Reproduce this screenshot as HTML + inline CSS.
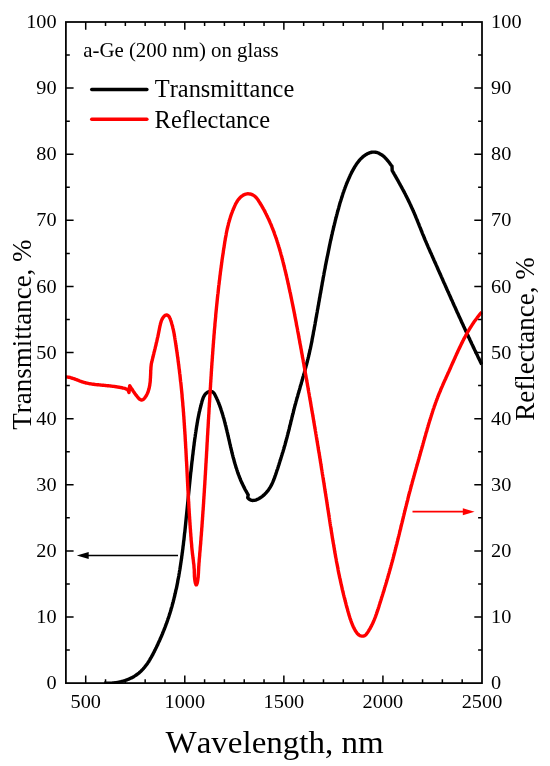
<!DOCTYPE html>
<html><head><meta charset="utf-8"><title>Chart</title><style>html,body{margin:0;padding:0;background:#fff}svg{display:block}text{font-kerning:none;font-feature-settings:"kern" 0,"liga" 0}</style></head><body>
<svg width="550" height="766" viewBox="0 0 550 766">
<rect width="550" height="766" fill="#fff"/>
<clipPath id="c"><rect x="64.9" y="21.0" width="418.1" height="663.1"/></clipPath>
<path d="M85.71 683.1 v-7.7 M85.71 22.0 v7.7 M105.53 683.1 v-3.9 M105.53 22.0 v3.9 M125.34 683.1 v-3.9 M125.34 22.0 v3.9 M145.16 683.1 v-3.9 M145.16 22.0 v3.9 M164.97 683.1 v-3.9 M164.97 22.0 v3.9 M184.79 683.1 v-7.7 M184.79 22.0 v7.7 M204.60 683.1 v-3.9 M204.60 22.0 v3.9 M224.41 683.1 v-3.9 M224.41 22.0 v3.9 M244.23 683.1 v-3.9 M244.23 22.0 v3.9 M264.04 683.1 v-3.9 M264.04 22.0 v3.9 M283.86 683.1 v-7.7 M283.86 22.0 v7.7 M303.67 683.1 v-3.9 M303.67 22.0 v3.9 M323.49 683.1 v-3.9 M323.49 22.0 v3.9 M343.30 683.1 v-3.9 M343.30 22.0 v3.9 M363.11 683.1 v-3.9 M363.11 22.0 v3.9 M382.93 683.1 v-7.7 M382.93 22.0 v7.7 M402.74 683.1 v-3.9 M402.74 22.0 v3.9 M422.56 683.1 v-3.9 M422.56 22.0 v3.9 M442.37 683.1 v-3.9 M442.37 22.0 v3.9 M462.19 683.1 v-3.9 M462.19 22.0 v3.9 M65.9 650.05 h3.9 M482.0 650.05 h-3.9 M65.9 616.99 h7.7 M482.0 616.99 h-7.7 M65.9 583.94 h3.9 M482.0 583.94 h-3.9 M65.9 550.88 h7.7 M482.0 550.88 h-7.7 M65.9 517.83 h3.9 M482.0 517.83 h-3.9 M65.9 484.77 h7.7 M482.0 484.77 h-7.7 M65.9 451.72 h3.9 M482.0 451.72 h-3.9 M65.9 418.66 h7.7 M482.0 418.66 h-7.7 M65.9 385.61 h3.9 M482.0 385.61 h-3.9 M65.9 352.55 h7.7 M482.0 352.55 h-7.7 M65.9 319.50 h3.9 M482.0 319.50 h-3.9 M65.9 286.44 h7.7 M482.0 286.44 h-7.7 M65.9 253.39 h3.9 M482.0 253.39 h-3.9 M65.9 220.33 h7.7 M482.0 220.33 h-7.7 M65.9 187.28 h3.9 M482.0 187.28 h-3.9 M65.9 154.22 h7.7 M482.0 154.22 h-7.7 M65.9 121.17 h3.9 M482.0 121.17 h-3.9 M65.9 88.11 h7.7 M482.0 88.11 h-7.7 M65.9 55.06 h3.9 M482.0 55.06 h-3.9" stroke="#000" stroke-width="1.5" fill="none"/>
<g clip-path="url(#c)">
<path d="M104.1 683.0 L105.0 683.1 L106.0 683.1 L107.0 683.2 L107.9 683.2 L108.9 683.2 L109.9 683.2 L110.9 683.1 L111.9 683.1 L112.9 683.0 L113.9 682.9 L114.9 682.8 L115.9 682.6 L116.9 682.5 L117.9 682.3 L118.9 682.1 L119.9 681.9 L120.9 681.7 L121.9 681.4 L122.9 681.2 L123.9 680.9 L124.9 680.6 L125.8 680.2 L126.8 679.9 L127.7 679.5 L128.7 679.1 L129.6 678.7 L130.5 678.3 L131.4 677.9 L132.3 677.4 L133.2 676.9 L134.1 676.4 L134.9 675.9 L135.8 675.3 L136.6 674.8 L137.4 674.2 L138.2 673.6 L139.0 673.0 L139.7 672.3 L140.4 671.7 L141.2 671.0 L141.8 670.3 L142.5 669.6 L143.2 668.9 L143.8 668.1 L144.5 667.4 L145.1 666.6 L145.7 665.8 L146.3 665.0 L146.9 664.2 L147.5 663.4 L148.0 662.6 L148.6 661.8 L149.1 660.9 L149.6 660.1 L150.1 659.2 L150.6 658.3 L151.2 657.4 L151.6 656.6 L152.1 655.7 L152.6 654.8 L153.1 653.9 L153.5 653.0 L154.0 652.1 L154.5 651.2 L154.9 650.2 L155.4 649.3 L155.8 648.4 L156.3 647.5 L156.7 646.6 L157.1 645.7 L157.6 644.8 L158.0 643.8 L158.4 642.9 L158.8 642.0 L159.3 641.1 L159.7 640.2 L160.1 639.2 L160.5 638.3 L160.9 637.4 L161.3 636.5 L161.7 635.5 L162.1 634.6 L162.5 633.7 L162.9 632.7 L163.2 631.8 L163.6 630.9 L164.0 629.9 L164.4 629.0 L164.7 628.1 L165.1 627.1 L165.4 626.2 L165.8 625.3 L166.1 624.3 L166.5 623.4 L166.8 622.4 L167.2 621.5 L167.5 620.5 L167.8 619.6 L168.1 618.6 L168.5 617.7 L168.8 616.7 L169.1 615.8 L169.4 614.8 L169.7 613.9 L170.0 612.9 L170.3 612.0 L170.6 611.0 L170.9 610.1 L171.1 609.1 L171.4 608.1 L171.7 607.2 L172.0 606.2 L172.2 605.3 L172.5 604.3 L172.8 603.3 L173.0 602.4 L173.3 601.4 L173.5 600.4 L173.8 599.5 L174.0 598.5 L174.2 597.5 L174.5 596.6 L174.7 595.6 L174.9 594.6 L175.2 593.6 L175.4 592.7 L175.6 591.7 L175.8 590.7 L176.0 589.7 L176.3 588.8 L176.5 587.8 L176.7 586.8 L176.9 585.8 L177.1 584.8 L177.3 583.9 L177.5 582.9 L177.7 581.9 L177.8 580.9 L178.0 579.9 L178.2 578.9 L178.4 578.0 L178.6 577.0 L178.8 576.0 L178.9 575.0 L179.1 574.0 L179.3 573.0 L179.4 572.0 L179.6 571.0 L179.8 570.0 L179.9 569.1 L180.1 568.1 L180.2 567.1 L180.4 566.1 L180.5 565.1 L180.7 564.1 L180.8 563.1 L181.0 562.1 L181.1 561.1 L181.3 560.1 L181.4 559.1 L181.6 558.1 L181.7 557.1 L181.8 556.1 L182.0 555.2 L182.1 554.2 L182.2 553.2 L182.4 552.2 L182.5 551.2 L182.6 550.2 L182.8 549.2 L182.9 548.2 L183.0 547.2 L183.1 546.2 L183.3 545.2 L183.4 544.2 L183.5 543.2 L183.6 542.2 L183.7 541.2 L183.9 540.2 L184.0 539.2 L184.1 538.2 L184.2 537.2 L184.3 536.2 L184.4 535.2 L184.5 534.2 L184.6 533.2 L184.8 532.2 L184.9 531.2 L185.0 530.2 L185.1 529.2 L185.2 528.2 L185.3 527.2 L185.4 526.2 L185.5 525.2 L185.6 524.2 L185.7 523.2 L185.8 522.2 L185.9 521.2 L186.0 520.2 L186.1 519.2 L186.2 518.2 L186.3 517.2 L186.4 516.2 L186.5 515.2 L186.6 514.2 L186.7 513.2 L186.8 512.2 L186.9 511.2 L187.0 510.2 L187.1 509.2 L187.2 508.2 L187.3 507.2 L187.4 506.2 L187.5 505.2 L187.6 504.2 L187.7 503.2 L187.8 502.2 L187.9 501.2 L188.0 500.2 L188.1 499.2 L188.2 498.2 L188.3 497.2 L188.4 496.2 L188.5 495.2 L188.6 494.2 L188.7 493.2 L188.8 492.2 L188.9 491.2 L189.0 490.2 L189.1 489.2 L189.2 488.2 L189.3 487.2 L189.4 486.2 L189.5 485.2 L189.6 484.2 L189.7 483.2 L189.8 482.2 L189.9 481.2 L190.0 480.2 L190.1 479.2 L190.2 478.2 L190.3 477.2 L190.4 476.2 L190.5 475.2 L190.6 474.2 L190.7 473.2 L190.8 472.2 L191.0 471.2 L191.1 470.2 L191.2 469.2 L191.3 468.2 L191.4 467.2 L191.5 466.2 L191.6 465.2 L191.7 464.2 L191.8 463.3 L191.9 462.3 L192.0 461.3 L192.2 460.3 L192.3 459.3 L192.4 458.3 L192.5 457.3 L192.6 456.3 L192.7 455.3 L192.9 454.3 L193.0 453.3 L193.1 452.3 L193.2 451.3 L193.3 450.3 L193.5 449.3 L193.6 448.3 L193.7 447.4 L193.8 446.4 L194.0 445.4 L194.1 444.4 L194.2 443.4 L194.3 442.4 L194.5 441.4 L194.6 440.4 L194.7 439.4 L194.9 438.4 L195.0 437.5 L195.2 436.5 L195.3 435.5 L195.4 434.5 L195.6 433.5 L195.7 432.5 L195.9 431.5 L196.0 430.5 L196.2 429.6 L196.3 428.6 L196.5 427.6 L196.6 426.6 L196.8 425.6 L197.0 424.6 L197.1 423.6 L197.3 422.6 L197.5 421.7 L197.6 420.7 L197.8 419.7 L198.0 418.7 L198.2 417.7 L198.4 416.7 L198.6 415.7 L198.8 414.7 L199.0 413.7 L199.2 412.7 L199.4 411.7 L199.7 410.7 L199.9 409.7 L200.1 408.8 L200.4 407.8 L200.6 406.8 L200.9 405.8 L201.1 404.8 L201.4 403.7 L201.7 402.7 L201.9 401.7 L202.2 400.7 L202.5 399.7 L202.9 398.8 L203.2 397.8 L203.6 396.9 L204.1 396.0 L204.6 395.2 L205.1 394.4 L205.7 393.7 L206.4 393.1 L207.2 392.5 L208.0 392.0 L208.9 391.7 L209.9 391.4 L210.8 391.3 L211.6 391.5 L212.5 391.8 L213.2 392.3 L213.8 393.0 L214.4 393.8 L214.9 394.8 L215.4 395.8 L215.9 396.8 L216.4 397.7 L216.8 398.7 L217.3 399.7 L217.7 400.6 L218.1 401.6 L218.5 402.5 L218.8 403.5 L219.2 404.4 L219.6 405.4 L219.9 406.3 L220.2 407.2 L220.6 408.2 L220.9 409.1 L221.2 410.1 L221.5 411.0 L221.8 411.9 L222.1 412.9 L222.4 413.8 L222.7 414.8 L223.0 415.7 L223.2 416.7 L223.5 417.6 L223.8 418.6 L224.1 419.6 L224.3 420.5 L224.6 421.5 L224.8 422.5 L225.1 423.4 L225.3 424.4 L225.6 425.4 L225.8 426.3 L226.1 427.3 L226.3 428.3 L226.5 429.3 L226.8 430.2 L227.0 431.2 L227.2 432.2 L227.5 433.2 L227.7 434.1 L227.9 435.1 L228.1 436.1 L228.4 437.1 L228.6 438.1 L228.8 439.0 L229.0 440.0 L229.3 441.0 L229.5 442.0 L229.7 443.0 L229.9 444.0 L230.2 444.9 L230.4 445.9 L230.6 446.9 L230.9 447.9 L231.1 448.9 L231.3 449.9 L231.6 450.8 L231.8 451.8 L232.0 452.8 L232.3 453.8 L232.5 454.7 L232.8 455.7 L233.0 456.7 L233.3 457.7 L233.5 458.6 L233.8 459.6 L234.1 460.6 L234.3 461.5 L234.6 462.5 L234.9 463.5 L235.2 464.4 L235.5 465.4 L235.8 466.4 L236.0 467.3 L236.4 468.3 L236.7 469.2 L237.0 470.2 L237.3 471.1 L237.6 472.1 L237.9 473.0 L238.3 474.0 L238.6 474.9 L239.0 475.8 L239.3 476.8 L239.7 477.7 L240.1 478.6 L240.4 479.5 L240.8 480.5 L241.2 481.4 L241.6 482.3 L242.0 483.2 L242.5 484.1 L242.9 485.0 L243.3 485.9 L243.8 486.8 L244.2 487.7 L244.7 488.6 L245.1 489.5 L245.6 490.4 L246.1 491.2 L246.6 492.1 L247.1 493.0 L247.6 493.9 L248.2 494.7 L247.7 497.8 L248.5 498.6 L249.3 499.3 L250.1 499.8 L251.0 500.2 L251.8 500.4 L252.7 500.5 L253.6 500.4 L254.5 500.3 L255.5 500.1 L256.4 499.8 L257.3 499.4 L258.2 499.0 L259.1 498.5 L259.9 498.0 L260.8 497.5 L261.6 496.9 L262.4 496.3 L263.2 495.6 L264.0 494.9 L264.8 494.2 L265.5 493.4 L266.2 492.7 L266.9 491.9 L267.5 491.1 L268.2 490.3 L268.8 489.4 L269.3 488.6 L269.9 487.7 L270.4 486.9 L270.9 486.0 L271.4 485.1 L271.8 484.2 L272.2 483.4 L272.6 482.5 L273.0 481.6 L273.4 480.6 L273.8 479.7 L274.1 478.8 L274.5 477.9 L274.8 476.9 L275.1 476.0 L275.5 475.1 L275.8 474.1 L276.1 473.2 L276.4 472.3 L276.7 471.3 L277.0 470.4 L277.4 469.4 L277.7 468.5 L278.0 467.5 L278.3 466.6 L278.6 465.6 L278.9 464.7 L279.2 463.7 L279.5 462.7 L279.8 461.8 L280.1 460.8 L280.4 459.9 L280.7 458.9 L281.0 457.9 L281.3 457.0 L281.6 456.0 L281.9 455.1 L282.2 454.1 L282.5 453.1 L282.8 452.2 L283.1 451.2 L283.4 450.2 L283.7 449.3 L284.0 448.3 L284.2 447.3 L284.5 446.4 L284.8 445.4 L285.1 444.4 L285.3 443.5 L285.6 442.5 L285.9 441.5 L286.1 440.6 L286.4 439.6 L286.7 438.6 L286.9 437.6 L287.2 436.7 L287.4 435.7 L287.7 434.7 L287.9 433.8 L288.2 432.8 L288.4 431.8 L288.7 430.9 L288.9 429.9 L289.2 428.9 L289.4 427.9 L289.6 427.0 L289.9 426.0 L290.1 425.0 L290.4 424.1 L290.6 423.1 L290.8 422.1 L291.1 421.1 L291.3 420.2 L291.6 419.2 L291.8 418.2 L292.0 417.3 L292.3 416.3 L292.5 415.3 L292.8 414.3 L293.0 413.4 L293.3 412.4 L293.5 411.4 L293.7 410.5 L294.0 409.5 L294.2 408.5 L294.5 407.5 L294.7 406.6 L295.0 405.6 L295.3 404.6 L295.5 403.7 L295.8 402.7 L296.0 401.7 L296.3 400.8 L296.6 399.8 L296.8 398.8 L297.1 397.9 L297.4 396.9 L297.7 395.9 L297.9 395.0 L298.2 394.0 L298.5 393.0 L298.8 392.1 L299.0 391.1 L299.3 390.2 L299.6 389.2 L299.9 388.2 L300.1 387.3 L300.4 386.3 L300.7 385.3 L301.0 384.4 L301.3 383.4 L301.5 382.4 L301.8 381.5 L302.1 380.5 L302.4 379.5 L302.6 378.6 L302.9 377.6 L303.2 376.6 L303.5 375.7 L303.7 374.7 L304.0 373.7 L304.3 372.8 L304.6 371.8 L304.8 370.8 L305.1 369.9 L305.4 368.9 L305.6 367.9 L305.9 367.0 L306.1 366.0 L306.4 365.0 L306.7 364.0 L306.9 363.1 L307.2 362.1 L307.4 361.1 L307.6 360.2 L307.9 359.2 L308.1 358.2 L308.4 357.2 L308.6 356.3 L308.8 355.3 L309.1 354.3 L309.3 353.3 L309.5 352.4 L309.7 351.4 L309.9 350.4 L310.1 349.4 L310.4 348.4 L310.6 347.5 L310.8 346.5 L311.0 345.5 L311.2 344.5 L311.4 343.5 L311.6 342.6 L311.8 341.6 L312.0 340.6 L312.1 339.6 L312.3 338.6 L312.5 337.6 L312.7 336.7 L312.9 335.7 L313.1 334.7 L313.3 333.7 L313.4 332.7 L313.6 331.7 L313.8 330.7 L314.0 329.8 L314.2 328.8 L314.3 327.8 L314.5 326.8 L314.7 325.8 L314.9 324.8 L315.1 323.8 L315.2 322.9 L315.4 321.9 L315.6 320.9 L315.8 319.9 L315.9 318.9 L316.1 317.9 L316.3 316.9 L316.5 315.9 L316.6 315.0 L316.8 314.0 L317.0 313.0 L317.2 312.0 L317.3 311.0 L317.5 310.0 L317.7 309.0 L317.9 308.1 L318.0 307.1 L318.2 306.1 L318.4 305.1 L318.6 304.1 L318.7 303.1 L318.9 302.1 L319.1 301.1 L319.3 300.2 L319.4 299.2 L319.6 298.2 L319.8 297.2 L320.0 296.2 L320.1 295.2 L320.3 294.2 L320.5 293.2 L320.7 292.3 L320.8 291.3 L321.0 290.3 L321.2 289.3 L321.4 288.3 L321.5 287.3 L321.7 286.3 L321.9 285.3 L322.1 284.4 L322.2 283.4 L322.4 282.4 L322.6 281.4 L322.8 280.4 L323.0 279.4 L323.1 278.4 L323.3 277.4 L323.5 276.5 L323.7 275.5 L323.9 274.5 L324.0 273.5 L324.2 272.5 L324.4 271.5 L324.6 270.5 L324.8 269.5 L325.0 268.6 L325.2 267.6 L325.3 266.6 L325.5 265.6 L325.7 264.6 L325.9 263.6 L326.1 262.6 L326.3 261.7 L326.5 260.7 L326.7 259.7 L326.9 258.7 L327.1 257.7 L327.3 256.7 L327.5 255.8 L327.7 254.8 L327.9 253.8 L328.1 252.8 L328.3 251.8 L328.5 250.8 L328.7 249.9 L328.9 248.9 L329.1 247.9 L329.3 246.9 L329.5 245.9 L329.7 244.9 L329.9 244.0 L330.1 243.0 L330.3 242.0 L330.5 241.0 L330.8 240.0 L331.0 239.1 L331.2 238.1 L331.4 237.1 L331.6 236.1 L331.8 235.1 L332.1 234.2 L332.3 233.2 L332.5 232.2 L332.7 231.2 L333.0 230.3 L333.2 229.3 L333.4 228.3 L333.7 227.3 L333.9 226.4 L334.1 225.4 L334.4 224.4 L334.6 223.4 L334.9 222.5 L335.1 221.5 L335.3 220.5 L335.6 219.5 L335.8 218.6 L336.1 217.6 L336.3 216.6 L336.6 215.7 L336.8 214.7 L337.1 213.7 L337.3 212.8 L337.6 211.8 L337.9 210.8 L338.1 209.9 L338.4 208.9 L338.7 207.9 L338.9 207.0 L339.2 206.0 L339.5 205.0 L339.7 204.1 L340.0 203.1 L340.3 202.1 L340.6 201.2 L340.9 200.2 L341.2 199.3 L341.5 198.3 L341.8 197.4 L342.1 196.4 L342.4 195.4 L342.7 194.5 L343.0 193.5 L343.3 192.6 L343.7 191.6 L344.0 190.7 L344.3 189.8 L344.7 188.8 L345.0 187.9 L345.4 186.9 L345.7 186.0 L346.1 185.1 L346.4 184.1 L346.8 183.2 L347.2 182.3 L347.6 181.4 L348.0 180.4 L348.4 179.5 L348.8 178.6 L349.2 177.7 L349.6 176.8 L350.0 175.9 L350.4 174.9 L350.9 174.0 L351.3 173.1 L351.8 172.2 L352.2 171.3 L352.7 170.5 L353.2 169.6 L353.7 168.7 L354.2 167.8 L354.7 166.9 L355.2 166.1 L355.8 165.2 L356.3 164.4 L356.9 163.6 L357.5 162.8 L358.1 162.0 L358.7 161.2 L359.4 160.4 L360.0 159.6 L360.7 158.9 L361.4 158.2 L362.2 157.5 L362.9 156.8 L363.7 156.2 L364.5 155.6 L365.4 155.0 L366.2 154.4 L367.1 153.9 L368.0 153.5 L368.9 153.1 L369.8 152.7 L370.7 152.5 L371.7 152.2 L372.6 152.1 L373.6 152.1 L374.5 152.1 L375.5 152.2 L376.4 152.4 L377.4 152.7 L378.3 153.0 L379.2 153.4 L380.1 153.9 L381.0 154.4 L381.9 154.9 L382.7 155.6 L383.5 156.2 L384.3 156.9 L385.0 157.6 L385.7 158.4 L386.4 159.2 L387.1 160.0 L387.8 160.7 L388.4 161.5 L389.0 162.3 L389.6 163.1 L390.2 163.9 L390.8 164.7 L391.4 165.5 L392.0 166.2 L392.2 170.6 L392.7 171.4 L393.2 172.3 L393.7 173.2 L394.2 174.1 L394.7 174.9 L395.2 175.8 L395.7 176.7 L396.2 177.6 L396.7 178.5 L397.2 179.3 L397.7 180.2 L398.2 181.1 L398.7 182.0 L399.1 182.9 L399.6 183.7 L400.1 184.6 L400.6 185.5 L401.1 186.4 L401.6 187.3 L402.1 188.2 L402.5 189.0 L403.0 189.9 L403.5 190.8 L404.0 191.7 L404.4 192.6 L404.9 193.5 L405.4 194.4 L405.8 195.3 L406.3 196.2 L406.7 197.1 L407.2 198.0 L407.6 198.9 L408.1 199.8 L408.5 200.7 L408.9 201.6 L409.4 202.5 L409.8 203.4 L410.2 204.3 L410.7 205.3 L411.1 206.2 L411.5 207.1 L411.9 208.0 L412.3 208.9 L412.8 209.8 L413.2 210.8 L413.6 211.7 L414.0 212.6 L414.4 213.5 L414.8 214.5 L415.2 215.4 L415.5 216.3 L415.9 217.2 L416.3 218.2 L416.7 219.1 L417.1 220.0 L417.5 221.0 L417.8 221.9 L418.2 222.8 L418.6 223.8 L419.0 224.7 L419.3 225.6 L419.7 226.6 L420.1 227.5 L420.5 228.4 L420.8 229.4 L421.2 230.3 L421.6 231.3 L422.0 232.2 L422.3 233.1 L422.7 234.1 L423.1 235.0 L423.5 235.9 L423.9 236.9 L424.2 237.8 L424.6 238.7 L425.0 239.7 L425.4 240.6 L425.8 241.5 L426.2 242.4 L426.6 243.4 L427.0 244.3 L427.4 245.2 L427.8 246.1 L428.2 247.1 L428.6 248.0 L429.0 248.9 L429.4 249.8 L429.8 250.7 L430.2 251.7 L430.6 252.6 L431.1 253.5 L431.5 254.4 L431.9 255.4 L432.3 256.3 L432.7 257.2 L433.1 258.1 L433.5 259.0 L433.9 260.0 L434.3 260.9 L434.7 261.8 L435.1 262.7 L435.6 263.6 L436.0 264.6 L436.4 265.5 L436.8 266.4 L437.2 267.3 L437.6 268.3 L438.0 269.2 L438.4 270.1 L438.8 271.0 L439.2 271.9 L439.6 272.9 L440.1 273.8 L440.5 274.7 L440.9 275.6 L441.3 276.6 L441.7 277.5 L442.1 278.4 L442.5 279.3 L442.9 280.2 L443.3 281.2 L443.7 282.1 L444.1 283.0 L444.6 283.9 L445.0 284.9 L445.4 285.8 L445.8 286.7 L446.2 287.6 L446.6 288.5 L447.0 289.5 L447.4 290.4 L447.8 291.3 L448.3 292.2 L448.7 293.1 L449.1 294.1 L449.5 295.0 L449.9 295.9 L450.3 296.8 L450.7 297.7 L451.1 298.7 L451.5 299.6 L452.0 300.5 L452.4 301.4 L452.8 302.4 L453.2 303.3 L453.6 304.2 L454.0 305.1 L454.4 306.0 L454.9 307.0 L455.3 307.9 L455.7 308.8 L456.1 309.7 L456.5 310.6 L456.9 311.5 L457.3 312.5 L457.8 313.4 L458.2 314.3 L458.6 315.2 L459.0 316.1 L459.4 317.1 L459.9 318.0 L460.3 318.9 L460.7 319.8 L461.1 320.7 L461.5 321.7 L461.9 322.6 L462.4 323.5 L462.8 324.4 L463.2 325.3 L463.6 326.2 L464.1 327.2 L464.5 328.1 L464.9 329.0 L465.3 329.9 L465.7 330.8 L466.2 331.7 L466.6 332.6 L467.0 333.6 L467.4 334.5 L467.9 335.4 L468.3 336.3 L468.7 337.2 L469.1 338.1 L469.6 339.0 L470.0 340.0 L470.4 340.9 L470.9 341.8 L471.3 342.7 L471.7 343.6 L472.1 344.5 L472.6 345.4 L473.0 346.3 L473.4 347.3 L473.9 348.2 L474.3 349.1 L474.7 350.0 L475.2 350.9 L475.6 351.8 L476.0 352.7 L476.5 353.6 L476.9 354.5 L477.4 355.4 L477.8 356.4 L478.2 357.3 L478.7 358.2 L479.1 359.1 L479.6 360.0 L480.0 360.9 L480.4 361.8 L480.9 362.7 L481.3 363.6 L481.8 364.5" stroke="#000" stroke-width="3.4" fill="none" stroke-linejoin="round"/>
<path d="M65.6 376.9 L66.6 376.9 L67.7 377.1 L68.7 377.2 L69.7 377.4 L70.6 377.7 L71.6 378.0 L72.6 378.3 L73.6 378.6 L74.5 378.9 L75.5 379.3 L76.4 379.7 L77.4 380.0 L78.4 380.4 L79.3 380.8 L80.3 381.2 L81.2 381.5 L82.2 381.8 L83.2 382.2 L84.1 382.5 L85.1 382.7 L86.1 383.0 L87.1 383.2 L88.1 383.4 L89.1 383.6 L90.1 383.8 L91.1 383.9 L92.1 384.1 L93.1 384.2 L94.2 384.3 L95.2 384.5 L96.2 384.6 L97.2 384.7 L98.3 384.8 L99.3 384.9 L100.3 385.0 L101.3 385.1 L102.4 385.2 L103.4 385.3 L104.4 385.4 L105.4 385.5 L106.5 385.6 L107.5 385.7 L108.5 385.8 L109.5 385.9 L110.5 386.0 L111.6 386.1 L112.6 386.3 L113.6 386.4 L114.6 386.5 L115.6 386.7 L116.6 386.8 L117.6 387.0 L118.6 387.2 L119.6 387.3 L120.6 387.5 L121.6 387.7 L122.6 388.0 L123.6 388.2 L124.6 388.4 L125.5 388.7 L126.4 389.1 L127.3 389.6 L128.0 390.3 L128.5 391.3 L129.0 392.5 L129.7 385.8 L130.3 386.7 L130.9 387.6 L131.5 388.5 L132.1 389.3 L132.6 390.2 L133.1 391.0 L133.7 391.8 L134.2 392.6 L134.8 393.4 L135.4 394.2 L136.0 395.1 L136.7 395.9 L137.4 396.9 L138.1 397.7 L138.9 398.6 L139.8 399.3 L140.7 399.8 L141.7 400.0 L142.5 399.9 L143.3 399.4 L144.1 398.7 L144.7 398.0 L145.3 397.1 L145.9 396.3 L146.4 395.4 L146.9 394.5 L147.3 393.6 L147.7 392.7 L148.1 391.8 L148.4 390.8 L148.7 389.8 L149.0 388.8 L149.2 387.8 L149.4 386.8 L149.6 385.8 L149.8 384.8 L149.9 383.7 L150.1 382.7 L150.2 381.6 L150.3 380.6 L150.3 379.5 L150.4 378.4 L150.5 377.4 L150.5 376.3 L150.6 375.2 L150.6 374.2 L150.7 373.1 L150.7 372.1 L150.7 371.0 L150.8 370.0 L150.9 369.0 L150.9 368.0 L151.0 367.0 L151.1 366.0 L151.2 365.0 L151.3 364.1 L151.3 364.1 L151.5 363.0 L151.8 362.0 L152.0 361.0 L152.3 360.0 L152.5 359.0 L152.7 358.1 L153.0 357.1 L153.2 356.1 L153.4 355.1 L153.7 354.2 L153.9 353.2 L154.1 352.2 L154.4 351.3 L154.6 350.3 L154.8 349.4 L155.1 348.4 L155.3 347.5 L155.5 346.5 L155.8 345.6 L156.0 344.6 L156.2 343.7 L156.4 342.7 L156.7 341.7 L156.9 340.8 L157.1 339.8 L157.3 338.9 L157.5 337.9 L157.8 336.9 L158.0 335.9 L158.2 334.9 L158.4 333.9 L158.6 332.9 L158.8 331.9 L159.0 330.9 L159.2 329.9 L159.4 328.9 L159.6 327.8 L159.8 326.8 L160.0 325.8 L160.3 324.7 L160.5 323.7 L160.8 322.7 L161.1 321.7 L161.4 320.8 L161.8 319.9 L162.2 319.0 L162.7 318.2 L163.2 317.4 L163.8 316.7 L164.4 316.0 L165.1 315.4 L165.9 315.1 L166.6 315.0 L167.4 315.2 L168.2 315.7 L168.8 316.3 L169.4 317.1 L169.8 318.0 L170.3 319.0 L170.6 320.0 L171.0 321.1 L171.3 322.1 L171.6 323.1 L171.9 324.2 L172.2 325.2 L172.5 326.2 L172.7 327.2 L172.9 328.2 L173.2 329.2 L173.4 330.2 L173.6 331.2 L173.8 332.2 L174.0 333.1 L174.2 334.1 L174.3 335.1 L174.5 336.1 L174.7 337.0 L174.8 338.0 L175.0 339.0 L175.1 340.0 L175.3 340.9 L175.4 341.9 L175.6 342.9 L175.7 343.9 L175.9 344.8 L176.0 345.8 L176.2 346.8 L176.3 347.8 L176.5 348.8 L176.6 349.8 L176.7 350.7 L176.9 351.7 L177.0 352.7 L177.2 353.7 L177.3 354.7 L177.4 355.7 L177.6 356.7 L177.7 357.6 L177.9 358.6 L178.0 359.6 L178.1 360.6 L178.2 361.6 L178.4 362.6 L178.5 363.6 L178.6 364.6 L178.8 365.6 L178.9 366.6 L179.0 367.6 L179.1 368.6 L179.3 369.5 L179.4 370.5 L179.5 371.5 L179.6 372.5 L179.7 373.5 L179.9 374.5 L180.0 375.5 L180.1 376.5 L180.2 377.5 L180.3 378.5 L180.4 379.5 L180.5 380.5 L180.6 381.5 L180.8 382.5 L180.9 383.5 L181.0 384.5 L181.1 385.5 L181.2 386.5 L181.3 387.5 L181.4 388.5 L181.5 389.5 L181.6 390.5 L181.7 391.5 L181.8 392.5 L181.9 393.5 L182.0 394.5 L182.1 395.5 L182.1 396.5 L182.2 397.5 L182.3 398.5 L182.4 399.5 L182.5 400.5 L182.6 401.5 L182.7 402.5 L182.8 403.5 L182.8 404.5 L182.9 405.5 L183.0 406.5 L183.1 407.5 L183.2 408.5 L183.3 409.5 L183.3 410.5 L183.4 411.5 L183.5 412.5 L183.6 413.5 L183.6 414.5 L183.7 415.5 L183.8 416.5 L183.9 417.5 L183.9 418.5 L184.0 419.5 L184.1 420.5 L184.1 421.5 L184.2 422.5 L184.3 423.5 L184.3 424.5 L184.4 425.5 L184.5 426.5 L184.5 427.5 L184.6 428.5 L184.7 429.5 L184.7 430.5 L184.8 431.5 L184.9 432.5 L184.9 433.5 L185.0 434.5 L185.1 435.5 L185.1 436.5 L185.2 437.5 L185.2 438.5 L185.3 439.5 L185.3 440.5 L185.4 441.5 L185.5 442.5 L185.5 443.5 L185.6 444.5 L185.6 445.5 L185.7 446.5 L185.7 447.5 L185.8 448.4 L185.9 449.4 L185.9 450.4 L186.0 451.4 L186.0 452.4 L186.1 453.4 L186.1 454.4 L186.2 455.4 L186.2 456.4 L186.3 457.4 L186.3 458.4 L186.4 459.4 L186.4 460.4 L186.5 461.4 L186.6 462.4 L186.6 463.4 L186.7 464.4 L186.7 465.4 L186.8 466.4 L186.8 467.4 L186.9 468.4 L186.9 469.4 L187.0 470.4 L187.0 471.4 L187.1 472.4 L187.1 473.4 L187.2 474.4 L187.2 475.4 L187.3 476.4 L187.3 477.4 L187.4 478.4 L187.4 479.4 L187.5 480.4 L187.5 481.4 L187.6 482.4 L187.6 483.4 L187.7 484.4 L187.7 485.4 L187.8 486.4 L187.8 487.4 L187.9 488.4 L187.9 489.4 L188.0 490.4 L188.1 491.4 L188.1 492.4 L188.2 493.4 L188.2 494.4 L188.3 495.4 L188.3 496.4 L188.4 497.4 L188.4 498.4 L188.5 499.4 L188.5 500.4 L188.6 501.4 L188.7 502.4 L188.7 503.4 L188.8 504.4 L188.8 505.4 L188.9 506.4 L188.9 507.4 L189.0 508.4 L189.1 509.4 L189.1 510.4 L189.2 511.4 L189.2 512.4 L189.3 513.4 L189.4 514.4 L189.4 515.4 L189.5 516.4 L189.6 517.4 L189.6 518.4 L189.7 519.4 L189.8 520.4 L189.8 521.4 L189.9 522.4 L190.0 523.3 L190.0 524.3 L190.1 525.3 L190.2 526.3 L190.2 527.3 L190.3 528.3 L190.4 529.3 L190.5 530.3 L190.5 531.3 L190.6 532.3 L190.7 533.3 L190.8 534.3 L190.8 535.3 L190.9 536.3 L191.0 537.3 L191.1 538.3 L191.1 539.3 L191.2 540.3 L191.3 541.3 L191.4 542.3 L191.5 543.3 L191.6 544.3 L191.7 545.3 L191.7 546.3 L191.8 547.3 L191.9 548.3 L192.0 549.3 L192.1 550.2 L192.2 551.2 L192.3 552.2 L192.4 553.2 L192.5 554.2 L192.7 555.2 L192.8 556.2 L192.9 557.2 L193.0 558.2 L193.2 559.2 L193.3 560.2 L193.4 561.2 L193.5 562.2 L193.6 563.2 L193.8 564.1 L193.9 565.1 L194.0 566.1 L194.0 567.1 L194.1 568.1 L194.2 569.0 L194.3 570.0 L194.3 571.0 L194.3 572.0 L194.3 572.9 L194.4 573.9 L194.4 574.9 L194.4 576.0 L194.5 577.0 L194.6 578.1 L194.7 579.2 L194.9 580.4 L195.1 581.6 L195.3 582.7 L195.6 583.7 L195.9 584.5 L196.1 584.9 L196.4 584.9 L196.7 584.5 L197.0 583.7 L197.3 582.7 L197.5 581.6 L197.7 580.4 L197.9 579.2 L198.0 578.1 L198.2 577.0 L198.2 576.0 L198.3 574.9 L198.4 573.9 L198.4 573.0 L198.5 572.0 L198.5 571.0 L198.6 570.0 L198.6 569.0 L198.7 568.1 L198.7 567.1 L198.8 566.1 L198.9 565.1 L198.9 564.1 L199.0 563.1 L199.1 562.1 L199.2 561.1 L199.2 560.1 L199.3 559.1 L199.4 558.2 L199.5 557.2 L199.6 556.2 L199.7 555.2 L199.7 554.2 L199.8 553.2 L199.9 552.2 L200.0 551.2 L200.1 550.2 L200.2 549.2 L200.2 548.2 L200.3 547.2 L200.4 546.2 L200.5 545.2 L200.6 544.2 L200.7 543.2 L200.7 542.2 L200.8 541.2 L200.9 540.2 L201.0 539.2 L201.0 538.2 L201.1 537.2 L201.2 536.2 L201.3 535.2 L201.4 534.2 L201.4 533.2 L201.5 532.2 L201.6 531.2 L201.7 530.2 L201.7 529.2 L201.8 528.2 L201.9 527.2 L202.0 526.2 L202.0 525.2 L202.1 524.2 L202.2 523.2 L202.2 522.2 L202.3 521.2 L202.4 520.2 L202.5 519.2 L202.5 518.2 L202.6 517.2 L202.7 516.2 L202.7 515.2 L202.8 514.2 L202.9 513.2 L202.9 512.2 L203.0 511.2 L203.1 510.2 L203.2 509.2 L203.2 508.2 L203.3 507.2 L203.4 506.2 L203.4 505.2 L203.5 504.2 L203.6 503.2 L203.6 502.2 L203.7 501.2 L203.7 500.2 L203.8 499.2 L203.9 498.2 L203.9 497.2 L204.0 496.2 L204.1 495.2 L204.1 494.2 L204.2 493.2 L204.3 492.2 L204.3 491.2 L204.4 490.2 L204.4 489.2 L204.5 488.2 L204.6 487.2 L204.6 486.2 L204.7 485.2 L204.8 484.2 L204.8 483.2 L204.9 482.2 L204.9 481.2 L205.0 480.2 L205.1 479.2 L205.1 478.2 L205.2 477.2 L205.2 476.2 L205.3 475.2 L205.4 474.2 L205.4 473.2 L205.5 472.2 L205.5 471.2 L205.6 470.2 L205.7 469.2 L205.7 468.2 L205.8 467.2 L205.8 466.2 L205.9 465.2 L205.9 464.2 L206.0 463.2 L206.1 462.2 L206.1 461.2 L206.2 460.2 L206.2 459.2 L206.3 458.2 L206.4 457.2 L206.4 456.2 L206.5 455.2 L206.5 454.2 L206.6 453.2 L206.6 452.2 L206.7 451.2 L206.8 450.2 L206.8 449.2 L206.9 448.2 L206.9 447.2 L207.0 446.2 L207.0 445.2 L207.1 444.2 L207.1 443.2 L207.2 442.2 L207.3 441.2 L207.3 440.2 L207.4 439.2 L207.4 438.2 L207.5 437.2 L207.5 436.2 L207.6 435.2 L207.7 434.2 L207.7 433.2 L207.8 432.2 L207.8 431.2 L207.9 430.2 L207.9 429.2 L208.0 428.2 L208.1 427.3 L208.1 426.3 L208.2 425.3 L208.2 424.3 L208.3 423.3 L208.3 422.3 L208.4 421.3 L208.4 420.3 L208.5 419.3 L208.6 418.3 L208.6 417.3 L208.7 416.3 L208.7 415.3 L208.8 414.3 L208.9 413.3 L208.9 412.3 L209.0 411.3 L209.0 410.3 L209.1 409.3 L209.1 408.3 L209.2 407.3 L209.3 406.3 L209.3 405.3 L209.4 404.3 L209.4 403.3 L209.5 402.3 L209.6 401.3 L209.6 400.3 L209.7 399.3 L209.7 398.3 L209.8 397.3 L209.8 396.3 L209.9 395.3 L210.0 394.3 L210.0 393.3 L210.1 392.3 L210.2 391.3 L210.2 390.3 L210.3 389.3 L210.3 388.3 L210.4 387.3 L210.5 386.3 L210.5 385.3 L210.6 384.3 L210.6 383.3 L210.7 382.3 L210.8 381.3 L210.8 380.3 L210.9 379.3 L211.0 378.3 L211.0 377.3 L211.1 376.3 L211.2 375.3 L211.2 374.3 L211.3 373.3 L211.3 372.3 L211.4 371.3 L211.5 370.3 L211.5 369.3 L211.6 368.3 L211.7 367.3 L211.7 366.3 L211.8 365.3 L211.9 364.3 L211.9 363.3 L212.0 362.3 L212.1 361.3 L212.2 360.3 L212.2 359.3 L212.3 358.3 L212.4 357.3 L212.4 356.3 L212.5 355.3 L212.6 354.3 L212.7 353.3 L212.7 352.3 L212.8 351.3 L212.9 350.3 L212.9 349.3 L213.0 348.3 L213.1 347.3 L213.2 346.3 L213.2 345.3 L213.3 344.3 L213.4 343.3 L213.5 342.3 L213.5 341.3 L213.6 340.3 L213.7 339.3 L213.8 338.3 L213.9 337.3 L213.9 336.4 L214.0 335.4 L214.1 334.4 L214.2 333.4 L214.3 332.4 L214.3 331.4 L214.4 330.4 L214.5 329.4 L214.6 328.4 L214.7 327.4 L214.8 326.4 L214.9 325.4 L214.9 324.4 L215.0 323.4 L215.1 322.4 L215.2 321.4 L215.3 320.4 L215.4 319.4 L215.5 318.4 L215.6 317.4 L215.7 316.4 L215.7 315.4 L215.8 314.4 L215.9 313.4 L216.0 312.4 L216.1 311.4 L216.2 310.4 L216.3 309.4 L216.4 308.4 L216.5 307.4 L216.6 306.4 L216.7 305.4 L216.8 304.4 L216.9 303.5 L217.0 302.5 L217.1 301.5 L217.2 300.5 L217.3 299.5 L217.4 298.5 L217.5 297.5 L217.6 296.5 L217.7 295.5 L217.8 294.5 L218.0 293.5 L218.1 292.5 L218.2 291.5 L218.3 290.5 L218.4 289.5 L218.5 288.5 L218.6 287.5 L218.7 286.5 L218.8 285.5 L219.0 284.5 L219.1 283.5 L219.2 282.6 L219.3 281.6 L219.4 280.6 L219.6 279.6 L219.7 278.6 L219.8 277.6 L219.9 276.6 L220.0 275.6 L220.2 274.6 L220.3 273.6 L220.4 272.6 L220.5 271.6 L220.7 270.6 L220.8 269.6 L220.9 268.6 L221.1 267.6 L221.2 266.7 L221.3 265.7 L221.5 264.7 L221.6 263.7 L221.7 262.7 L221.9 261.7 L222.0 260.7 L222.1 259.7 L222.3 258.7 L222.4 257.7 L222.6 256.7 L222.7 255.7 L222.9 254.7 L223.0 253.8 L223.2 252.8 L223.3 251.8 L223.4 250.8 L223.6 249.8 L223.7 248.8 L223.9 247.8 L224.1 246.8 L224.2 245.8 L224.4 244.8 L224.5 243.8 L224.7 242.9 L224.8 241.9 L225.0 240.9 L225.2 239.9 L225.3 238.9 L225.5 237.9 L225.7 236.9 L225.9 235.9 L226.1 235.0 L226.2 234.0 L226.4 233.0 L226.6 232.0 L226.8 231.0 L227.0 230.1 L227.2 229.1 L227.5 228.1 L227.7 227.1 L227.9 226.2 L228.2 225.2 L228.4 224.2 L228.6 223.2 L228.9 222.3 L229.2 221.3 L229.4 220.4 L229.7 219.4 L230.0 218.4 L230.3 217.5 L230.6 216.5 L230.9 215.6 L231.2 214.7 L231.6 213.7 L231.9 212.8 L232.3 211.8 L232.6 210.9 L233.0 210.0 L233.4 209.0 L233.8 208.1 L234.2 207.2 L234.6 206.3 L235.0 205.4 L235.4 204.4 L235.9 203.5 L236.4 202.7 L236.9 201.8 L237.4 200.9 L238.0 200.1 L238.6 199.3 L239.2 198.6 L239.9 197.8 L240.6 197.1 L241.3 196.5 L242.2 195.9 L243.0 195.3 L243.9 194.8 L244.9 194.4 L245.9 194.1 L246.9 193.9 L247.9 193.8 L248.9 193.9 L249.9 194.0 L250.8 194.2 L251.8 194.5 L252.7 194.9 L253.5 195.4 L254.3 195.9 L255.1 196.5 L255.8 197.2 L256.4 197.9 L257.1 198.7 L257.7 199.5 L258.3 200.3 L258.8 201.2 L259.4 202.1 L259.9 202.9 L260.4 203.8 L261.0 204.7 L261.5 205.5 L262.0 206.4 L262.5 207.3 L263.0 208.2 L263.5 209.1 L264.0 209.9 L264.5 210.8 L264.9 211.7 L265.4 212.6 L265.8 213.5 L266.3 214.4 L266.7 215.3 L267.2 216.2 L267.6 217.1 L268.0 218.0 L268.5 218.9 L268.9 219.8 L269.3 220.7 L269.7 221.6 L270.1 222.6 L270.5 223.5 L270.9 224.4 L271.3 225.3 L271.6 226.2 L272.0 227.2 L272.4 228.1 L272.7 229.0 L273.1 229.9 L273.5 230.9 L273.8 231.8 L274.2 232.7 L274.5 233.7 L274.8 234.6 L275.2 235.6 L275.5 236.5 L275.8 237.4 L276.2 238.4 L276.5 239.3 L276.8 240.3 L277.1 241.2 L277.4 242.2 L277.7 243.1 L278.0 244.1 L278.3 245.0 L278.6 246.0 L278.9 247.0 L279.2 247.9 L279.5 248.9 L279.7 249.8 L280.0 250.8 L280.3 251.8 L280.6 252.7 L280.8 253.7 L281.1 254.7 L281.4 255.6 L281.6 256.6 L281.9 257.6 L282.1 258.5 L282.4 259.5 L282.7 260.5 L282.9 261.4 L283.2 262.4 L283.4 263.4 L283.6 264.4 L283.9 265.3 L284.1 266.3 L284.4 267.3 L284.6 268.2 L284.8 269.2 L285.1 270.2 L285.3 271.2 L285.5 272.1 L285.8 273.1 L286.0 274.1 L286.2 275.1 L286.5 276.1 L286.7 277.0 L286.9 278.0 L287.1 279.0 L287.4 280.0 L287.6 280.9 L287.8 281.9 L288.0 282.9 L288.2 283.9 L288.5 284.8 L288.7 285.8 L288.9 286.8 L289.1 287.8 L289.3 288.8 L289.5 289.7 L289.7 290.7 L289.9 291.7 L290.2 292.7 L290.4 293.7 L290.6 294.6 L290.8 295.6 L291.0 296.6 L291.2 297.6 L291.4 298.6 L291.6 299.5 L291.8 300.5 L292.0 301.5 L292.2 302.5 L292.4 303.5 L292.6 304.4 L292.8 305.4 L293.0 306.4 L293.2 307.4 L293.4 308.4 L293.6 309.3 L293.8 310.3 L294.0 311.3 L294.2 312.3 L294.4 313.3 L294.6 314.3 L294.7 315.2 L294.9 316.2 L295.1 317.2 L295.3 318.2 L295.5 319.2 L295.7 320.2 L295.9 321.1 L296.1 322.1 L296.3 323.1 L296.4 324.1 L296.6 325.1 L296.8 326.1 L297.0 327.0 L297.2 328.0 L297.4 329.0 L297.6 330.0 L297.7 331.0 L297.9 332.0 L298.1 332.9 L298.3 333.9 L298.5 334.9 L298.7 335.9 L298.8 336.9 L299.0 337.9 L299.2 338.8 L299.4 339.8 L299.6 340.8 L299.7 341.8 L299.9 342.8 L300.1 343.8 L300.3 344.8 L300.5 345.7 L300.6 346.7 L300.8 347.7 L301.0 348.7 L301.2 349.7 L301.4 350.7 L301.5 351.6 L301.7 352.6 L301.9 353.6 L302.1 354.6 L302.3 355.6 L302.4 356.6 L302.6 357.6 L302.8 358.5 L303.0 359.5 L303.2 360.5 L303.3 361.5 L303.5 362.5 L303.7 363.5 L303.9 364.4 L304.0 365.4 L304.2 366.4 L304.4 367.4 L304.6 368.4 L304.7 369.4 L304.9 370.4 L305.1 371.3 L305.3 372.3 L305.4 373.3 L305.6 374.3 L305.8 375.3 L306.0 376.3 L306.1 377.3 L306.3 378.2 L306.5 379.2 L306.7 380.2 L306.8 381.2 L307.0 382.2 L307.2 383.2 L307.4 384.2 L307.5 385.1 L307.7 386.1 L307.9 387.1 L308.1 388.1 L308.2 389.1 L308.4 390.1 L308.6 391.1 L308.7 392.0 L308.9 393.0 L309.1 394.0 L309.3 395.0 L309.4 396.0 L309.6 397.0 L309.8 398.0 L309.9 398.9 L310.1 399.9 L310.3 400.9 L310.5 401.9 L310.6 402.9 L310.8 403.9 L311.0 404.9 L311.1 405.9 L311.3 406.8 L311.5 407.8 L311.6 408.8 L311.8 409.8 L312.0 410.8 L312.2 411.8 L312.3 412.8 L312.5 413.7 L312.7 414.7 L312.8 415.7 L313.0 416.7 L313.2 417.7 L313.3 418.7 L313.5 419.7 L313.7 420.7 L313.8 421.6 L314.0 422.6 L314.2 423.6 L314.3 424.6 L314.5 425.6 L314.7 426.6 L314.8 427.6 L315.0 428.6 L315.2 429.5 L315.3 430.5 L315.5 431.5 L315.7 432.5 L315.8 433.5 L316.0 434.5 L316.2 435.5 L316.3 436.5 L316.5 437.4 L316.6 438.4 L316.8 439.4 L317.0 440.4 L317.1 441.4 L317.3 442.4 L317.5 443.4 L317.6 444.4 L317.8 445.3 L318.0 446.3 L318.1 447.3 L318.3 448.3 L318.4 449.3 L318.6 450.3 L318.8 451.3 L318.9 452.3 L319.1 453.2 L319.3 454.2 L319.4 455.2 L319.6 456.2 L319.7 457.2 L319.9 458.2 L320.1 459.2 L320.2 460.2 L320.4 461.2 L320.5 462.1 L320.7 463.1 L320.9 464.1 L321.0 465.1 L321.2 466.1 L321.3 467.1 L321.5 468.1 L321.6 469.1 L321.8 470.0 L322.0 471.0 L322.1 472.0 L322.3 473.0 L322.4 474.0 L322.6 475.0 L322.8 476.0 L322.9 477.0 L323.1 478.0 L323.2 478.9 L323.4 479.9 L323.5 480.9 L323.7 481.9 L323.9 482.9 L324.0 483.9 L324.2 484.9 L324.3 485.9 L324.5 486.9 L324.6 487.9 L324.8 488.8 L324.9 489.8 L325.1 490.8 L325.2 491.8 L325.4 492.8 L325.6 493.8 L325.7 494.8 L325.9 495.8 L326.0 496.8 L326.2 497.7 L326.3 498.7 L326.5 499.7 L326.6 500.7 L326.8 501.7 L326.9 502.7 L327.1 503.7 L327.2 504.7 L327.4 505.7 L327.5 506.7 L327.7 507.6 L327.8 508.6 L328.0 509.6 L328.2 510.6 L328.3 511.6 L328.5 512.6 L328.6 513.6 L328.8 514.6 L328.9 515.6 L329.1 516.6 L329.2 517.5 L329.4 518.5 L329.5 519.5 L329.7 520.5 L329.8 521.5 L330.0 522.5 L330.1 523.5 L330.3 524.5 L330.4 525.5 L330.6 526.5 L330.8 527.4 L330.9 528.4 L331.1 529.4 L331.2 530.4 L331.4 531.4 L331.5 532.4 L331.7 533.4 L331.9 534.4 L332.0 535.4 L332.2 536.3 L332.3 537.3 L332.5 538.3 L332.7 539.3 L332.8 540.3 L333.0 541.3 L333.2 542.3 L333.3 543.3 L333.5 544.2 L333.7 545.2 L333.8 546.2 L334.0 547.2 L334.2 548.2 L334.3 549.2 L334.5 550.2 L334.7 551.1 L334.8 552.1 L335.0 553.1 L335.2 554.1 L335.4 555.1 L335.5 556.1 L335.7 557.1 L335.9 558.0 L336.1 559.0 L336.3 560.0 L336.4 561.0 L336.6 562.0 L336.8 563.0 L337.0 563.9 L337.2 564.9 L337.4 565.9 L337.6 566.9 L337.8 567.9 L338.0 568.9 L338.1 569.8 L338.3 570.8 L338.5 571.8 L338.7 572.8 L338.9 573.8 L339.1 574.7 L339.3 575.7 L339.5 576.7 L339.7 577.7 L340.0 578.7 L340.2 579.6 L340.4 580.6 L340.6 581.6 L340.8 582.6 L341.0 583.5 L341.2 584.5 L341.5 585.5 L341.7 586.5 L341.9 587.4 L342.1 588.4 L342.3 589.4 L342.6 590.4 L342.8 591.3 L343.0 592.3 L343.3 593.3 L343.5 594.3 L343.7 595.2 L344.0 596.2 L344.2 597.2 L344.5 598.1 L344.7 599.1 L345.0 600.1 L345.2 601.1 L345.5 602.0 L345.7 603.0 L346.0 604.0 L346.2 604.9 L346.5 605.9 L346.7 606.9 L347.0 607.8 L347.3 608.8 L347.6 609.8 L347.8 610.7 L348.1 611.7 L348.4 612.7 L348.7 613.6 L348.9 614.6 L349.2 615.5 L349.5 616.5 L349.8 617.5 L350.1 618.4 L350.4 619.4 L350.8 620.3 L351.1 621.3 L351.4 622.2 L351.8 623.1 L352.2 624.1 L352.5 625.0 L352.9 625.9 L353.3 626.8 L353.8 627.7 L354.2 628.6 L354.7 629.5 L355.2 630.4 L355.7 631.3 L356.3 632.1 L356.9 632.9 L357.5 633.7 L358.3 634.4 L359.1 635.1 L359.9 635.6 L360.9 635.9 L361.9 636.1 L362.8 636.1 L363.8 636.0 L364.7 635.6 L365.5 635.1 L366.2 634.4 L366.8 633.6 L367.4 632.8 L368.0 631.9 L368.5 631.1 L369.0 630.2 L369.5 629.4 L370.1 628.5 L370.5 627.6 L371.0 626.7 L371.5 625.8 L371.9 624.9 L372.4 624.0 L372.8 623.1 L373.2 622.2 L373.6 621.3 L374.0 620.4 L374.4 619.4 L374.7 618.5 L375.1 617.6 L375.5 616.6 L375.8 615.7 L376.1 614.8 L376.5 613.8 L376.8 612.9 L377.1 611.9 L377.4 611.0 L377.8 610.0 L378.1 609.1 L378.4 608.1 L378.7 607.2 L379.0 606.2 L379.3 605.2 L379.6 604.3 L379.9 603.3 L380.2 602.4 L380.5 601.4 L380.8 600.5 L381.1 599.5 L381.4 598.6 L381.7 597.6 L382.0 596.6 L382.3 595.7 L382.6 594.7 L382.9 593.8 L383.2 592.8 L383.5 591.9 L383.8 590.9 L384.1 589.9 L384.4 589.0 L384.6 588.0 L384.9 587.1 L385.2 586.1 L385.5 585.2 L385.8 584.2 L386.1 583.2 L386.4 582.3 L386.7 581.3 L386.9 580.4 L387.2 579.4 L387.5 578.4 L387.8 577.5 L388.1 576.5 L388.3 575.6 L388.6 574.6 L388.9 573.6 L389.2 572.7 L389.4 571.7 L389.7 570.8 L390.0 569.8 L390.2 568.8 L390.5 567.9 L390.8 566.9 L391.0 565.9 L391.3 565.0 L391.6 564.0 L391.8 563.0 L392.1 562.1 L392.4 561.1 L392.6 560.1 L392.9 559.2 L393.1 558.2 L393.4 557.2 L393.6 556.3 L393.9 555.3 L394.1 554.3 L394.4 553.4 L394.6 552.4 L394.9 551.4 L395.1 550.4 L395.4 549.5 L395.6 548.5 L395.9 547.5 L396.1 546.6 L396.4 545.6 L396.6 544.6 L396.9 543.7 L397.1 542.7 L397.3 541.7 L397.6 540.7 L397.8 539.8 L398.1 538.8 L398.3 537.8 L398.5 536.9 L398.8 535.9 L399.0 534.9 L399.3 533.9 L399.5 533.0 L399.7 532.0 L400.0 531.0 L400.2 530.0 L400.5 529.1 L400.7 528.1 L400.9 527.1 L401.2 526.1 L401.4 525.2 L401.6 524.2 L401.9 523.2 L402.1 522.3 L402.4 521.3 L402.6 520.3 L402.8 519.3 L403.1 518.4 L403.3 517.4 L403.5 516.4 L403.8 515.4 L404.0 514.5 L404.3 513.5 L404.5 512.5 L404.7 511.6 L405.0 510.6 L405.2 509.6 L405.5 508.6 L405.7 507.7 L405.9 506.7 L406.2 505.7 L406.4 504.8 L406.7 503.8 L406.9 502.8 L407.2 501.8 L407.4 500.9 L407.7 499.9 L407.9 498.9 L408.1 498.0 L408.4 497.0 L408.6 496.0 L408.9 495.0 L409.1 494.1 L409.4 493.1 L409.6 492.1 L409.9 491.2 L410.2 490.2 L410.4 489.2 L410.7 488.3 L410.9 487.3 L411.2 486.3 L411.4 485.4 L411.7 484.4 L412.0 483.4 L412.2 482.5 L412.5 481.5 L412.8 480.5 L413.0 479.6 L413.3 478.6 L413.6 477.7 L413.8 476.7 L414.1 475.7 L414.4 474.8 L414.6 473.8 L414.9 472.8 L415.2 471.9 L415.4 470.9 L415.7 469.9 L416.0 469.0 L416.2 468.0 L416.5 467.1 L416.8 466.1 L417.1 465.1 L417.3 464.2 L417.6 463.2 L417.9 462.2 L418.2 461.3 L418.4 460.3 L418.7 459.4 L419.0 458.4 L419.2 457.4 L419.5 456.5 L419.8 455.5 L420.1 454.5 L420.3 453.6 L420.6 452.6 L420.9 451.6 L421.1 450.7 L421.4 449.7 L421.7 448.8 L422.0 447.8 L422.2 446.8 L422.5 445.9 L422.8 444.9 L423.0 443.9 L423.3 443.0 L423.6 442.0 L423.8 441.0 L424.1 440.1 L424.4 439.1 L424.7 438.1 L424.9 437.2 L425.2 436.2 L425.5 435.2 L425.7 434.3 L426.0 433.3 L426.3 432.3 L426.6 431.4 L426.9 430.4 L427.1 429.5 L427.4 428.5 L427.7 427.5 L428.0 426.6 L428.3 425.6 L428.5 424.7 L428.8 423.7 L429.1 422.7 L429.4 421.8 L429.7 420.8 L430.0 419.9 L430.3 418.9 L430.6 417.9 L430.9 417.0 L431.2 416.0 L431.5 415.1 L431.8 414.1 L432.1 413.2 L432.4 412.2 L432.7 411.3 L433.0 410.3 L433.3 409.4 L433.7 408.4 L434.0 407.5 L434.3 406.5 L434.6 405.6 L435.0 404.7 L435.3 403.7 L435.6 402.8 L436.0 401.8 L436.3 400.9 L436.7 400.0 L437.0 399.0 L437.4 398.1 L437.7 397.2 L438.1 396.2 L438.5 395.3 L438.8 394.4 L439.2 393.4 L439.6 392.5 L440.0 391.6 L440.4 390.7 L440.7 389.7 L441.1 388.8 L441.5 387.9 L441.9 387.0 L442.3 386.1 L442.7 385.1 L443.1 384.2 L443.5 383.3 L443.9 382.4 L444.3 381.5 L444.7 380.6 L445.1 379.7 L445.6 378.7 L446.0 377.8 L446.4 376.9 L446.8 376.0 L447.2 375.1 L447.6 374.2 L448.0 373.3 L448.4 372.4 L448.9 371.4 L449.3 370.5 L449.7 369.6 L450.1 368.7 L450.5 367.8 L450.9 366.9 L451.3 365.9 L451.7 365.0 L452.1 364.1 L452.5 363.2 L452.9 362.3 L453.4 361.4 L453.8 360.4 L454.2 359.5 L454.6 358.6 L455.0 357.7 L455.4 356.8 L455.8 355.9 L456.2 355.0 L456.6 354.0 L457.1 353.1 L457.5 352.2 L457.9 351.3 L458.3 350.4 L458.7 349.5 L459.2 348.6 L459.6 347.7 L460.0 346.8 L460.5 345.9 L460.9 345.0 L461.3 344.1 L461.8 343.2 L462.2 342.3 L462.7 341.4 L463.1 340.5 L463.6 339.6 L464.0 338.7 L464.5 337.8 L465.0 337.0 L465.5 336.1 L465.9 335.2 L466.4 334.3 L466.9 333.5 L467.4 332.6 L467.9 331.7 L468.4 330.9 L468.9 330.0 L469.4 329.2 L469.9 328.3 L470.5 327.5 L471.0 326.6 L471.5 325.8 L472.1 324.9 L472.6 324.1 L473.2 323.3 L473.7 322.4 L474.3 321.6 L474.9 320.8 L475.5 320.0 L476.1 319.2 L476.7 318.4 L477.3 317.6 L477.9 316.8 L478.5 316.0 L479.1 315.2 L479.8 314.4 L480.4 313.7 L481.1 312.9 L481.8 312.1" stroke="#f00" stroke-width="3.4" fill="none" stroke-linejoin="round"/>
</g>
<rect x="65.9" y="22.0" width="416.1" height="661.1" fill="none" stroke="#000" stroke-width="1.75"/>
<g font-family="'Liberation Serif', 'Times New Roman', serif" fill="#000">
<text transform="translate(56.6 689.1) scale(1.035 1)" font-size="19.6" text-anchor="end">0</text>
<text transform="translate(491.1 689.1) scale(1.035 1)" font-size="19.6" text-anchor="start">0</text>
<text transform="translate(56.6 623.0) scale(1.035 1)" font-size="19.6" text-anchor="end">10</text>
<text transform="translate(491.1 623.0) scale(1.035 1)" font-size="19.6" text-anchor="start">10</text>
<text transform="translate(56.6 556.9) scale(1.035 1)" font-size="19.6" text-anchor="end">20</text>
<text transform="translate(491.1 556.9) scale(1.035 1)" font-size="19.6" text-anchor="start">20</text>
<text transform="translate(56.6 490.8) scale(1.035 1)" font-size="19.6" text-anchor="end">30</text>
<text transform="translate(491.1 490.8) scale(1.035 1)" font-size="19.6" text-anchor="start">30</text>
<text transform="translate(56.6 424.7) scale(1.035 1)" font-size="19.6" text-anchor="end">40</text>
<text transform="translate(491.1 424.7) scale(1.035 1)" font-size="19.6" text-anchor="start">40</text>
<text transform="translate(56.6 358.6) scale(1.035 1)" font-size="19.6" text-anchor="end">50</text>
<text transform="translate(491.1 358.6) scale(1.035 1)" font-size="19.6" text-anchor="start">50</text>
<text transform="translate(56.6 292.5) scale(1.035 1)" font-size="19.6" text-anchor="end">60</text>
<text transform="translate(491.1 292.5) scale(1.035 1)" font-size="19.6" text-anchor="start">60</text>
<text transform="translate(56.6 226.4) scale(1.035 1)" font-size="19.6" text-anchor="end">70</text>
<text transform="translate(491.1 226.4) scale(1.035 1)" font-size="19.6" text-anchor="start">70</text>
<text transform="translate(56.6 160.3) scale(1.035 1)" font-size="19.6" text-anchor="end">80</text>
<text transform="translate(491.1 160.3) scale(1.035 1)" font-size="19.6" text-anchor="start">80</text>
<text transform="translate(56.6 94.2) scale(1.035 1)" font-size="19.6" text-anchor="end">90</text>
<text transform="translate(491.1 94.2) scale(1.035 1)" font-size="19.6" text-anchor="start">90</text>
<text transform="translate(56.6 28.1) scale(1.035 1)" font-size="19.6" text-anchor="end">100</text>
<text transform="translate(491.1 28.1) scale(1.035 1)" font-size="19.6" text-anchor="start">100</text>
<text transform="translate(85.7 707.9) scale(1.035 1)" font-size="19.6" text-anchor="middle">500</text>
<text transform="translate(184.8 707.9) scale(1.035 1)" font-size="19.6" text-anchor="middle">1000</text>
<text transform="translate(283.9 707.9) scale(1.035 1)" font-size="19.6" text-anchor="middle">1500</text>
<text transform="translate(382.9 707.9) scale(1.035 1)" font-size="19.6" text-anchor="middle">2000</text>
<text transform="translate(482.0 707.9) scale(1.035 1)" font-size="19.6" text-anchor="middle">2500</text>
<text transform="translate(83.2 57.1) scale(1.017 1)" font-size="20.5" text-anchor="start">a-Ge (200 nm) on glass</text>
<text transform="translate(154.8 96.6) scale(1.008 1)" font-size="24.2" text-anchor="start">Transmittance</text>
<text transform="translate(154.6 127.8) scale(1.012 1)" font-size="24.2" text-anchor="start">Reflectance</text>
<text transform="translate(274.6 752.9) scale(1.022 1)" font-size="32.3" text-anchor="middle">Wavelength, nm</text>
<text transform="translate(31.3 334.6) rotate(-90)" font-size="27.0" text-anchor="middle">Transmittance, %</text>
<text transform="translate(533.7 339.0) rotate(-90)" font-size="27.0" text-anchor="middle">Reflectance, %</text>
</g>
<path d="M91.7 89.5 H146.9" stroke="#000" stroke-width="3.4" stroke-linecap="round"/>
<path d="M91.7 119.3 H146.9" stroke="#f00" stroke-width="3.4" stroke-linecap="round"/>
<path d="M178 555.5 H87" stroke="#000" stroke-width="1.7"/><path d="M76.8 555.5 L88.7 552 V559 Z" fill="#000"/>
<path d="M412.5 511.7 H464" stroke="#f00" stroke-width="1.7"/><path d="M474.6 511.7 L462.8 508.2 V515.2 Z" fill="#f00"/>
</svg>
</body></html>
